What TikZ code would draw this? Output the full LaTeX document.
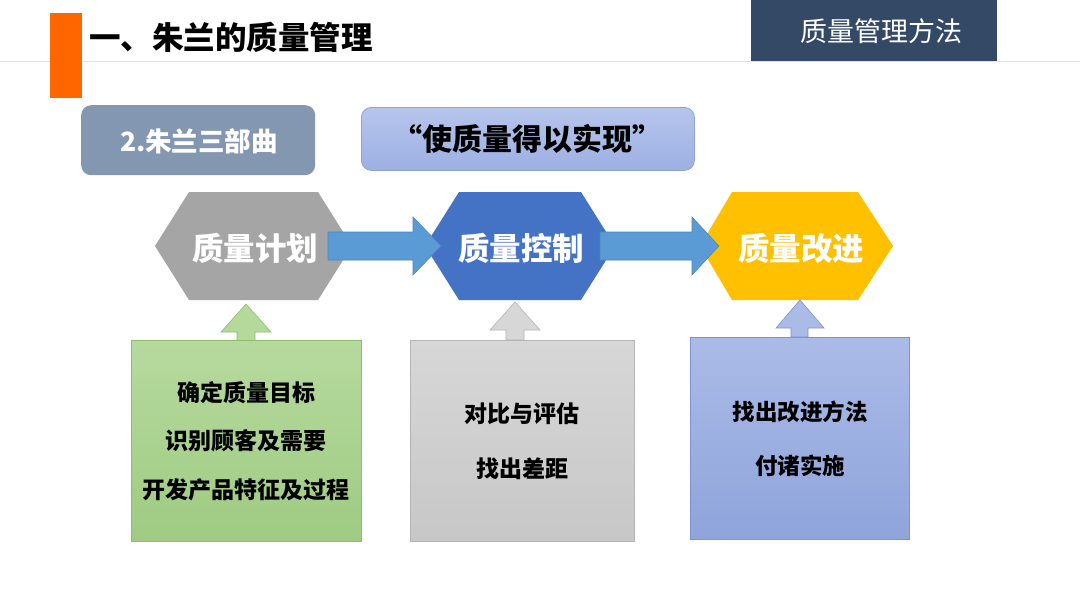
\documentclass[tikz,border=0pt]{standalone}
\usepackage{fontspec}
\setmainfont{Noto Sans CJK SC}
\definecolor{barorange}{HTML}{FF6600}
\definecolor{darkbox}{HTML}{344966}
\definecolor{linegray}{HTML}{E2E2E2}
\definecolor{tagfill}{HTML}{8497B0}
\definecolor{quotetop}{HTML}{B6C5EC}
\definecolor{quotebot}{HTML}{9CB0E2}
\definecolor{quoteborder}{HTML}{8FA3D8}
\definecolor{hexgray}{HTML}{A5A5A5}
\definecolor{hexblue}{HTML}{4472C4}
\definecolor{hexgold}{HTML}{FFC000}
\definecolor{arrblue}{HTML}{5B9BD5}
\definecolor{arrborder}{HTML}{4A86C0}
\definecolor{greentop}{HTML}{B6DA9E}
\definecolor{greenbot}{HTML}{9FCB82}
\definecolor{greenborder}{HTML}{8DBE6C}
\definecolor{graytop}{HTML}{D7D7D7}
\definecolor{graybot}{HTML}{C7C7C7}
\definecolor{grayborder}{HTML}{B5B5B5}
\definecolor{bluetop}{HTML}{ABBBE7}
\definecolor{bluebot}{HTML}{8EA4DB}
\definecolor{blueborder}{HTML}{7C93CE}
\tikzset{
  hextext/.style={text=white, font=\fontsize{31.5}{31.5}\selectfont\bfseries, inner sep=0},
  boxtext/.style={text=black, align=center, inner sep=0},
  flowarrow/.style={fill=arrblue, draw=arrborder, line width=0.6pt},
  infobox/.style={line width=0.8pt, minimum width=#1, anchor=north west, inner sep=0},
}
\begin{document}
\begin{tikzpicture}[x=1pt,y=-1pt]
\useasboundingbox (0,0) rectangle (1080,608);
\fill[white] (0,0) rectangle (1080,608);
% header line
\draw[linegray, line width=1pt] (0,61) -- (1080,61);
% orange bar
\node[fill=barorange, minimum width=32pt, minimum height=85pt, inner sep=0, anchor=north west] (bar) at (50,13) {};
% title
\node[anchor=west, inner sep=0, font=\fontsize{31.5}{31.5}\selectfont\bfseries] (title) at (89,37) {一、朱兰的质量管理};
% dark top-right box
\node[fill=darkbox, minimum width=246pt, minimum height=61pt, inner sep=0, anchor=north west] (method) at (751,0) {};
\node[text=white, font=\fontsize{27}{27}\selectfont, inner sep=0] (methodtxt) at (881,31) {质量管理方法};
% tag box
\node[fill=tagfill, rounded corners=10pt, minimum width=234pt, minimum height=70pt, inner sep=0, anchor=north west] (tag) at (81,105) {};
\node[text=white, font=\fontsize{26.5}{26.5}\selectfont\bfseries] (tagtxt) at (199,141) {2.朱兰三部曲};
% quote box
\node[top color=quotetop, bottom color=quotebot, draw=quoteborder, line width=0.8pt, rounded corners=10pt, minimum width=333pt, minimum height=63pt, inner sep=0, anchor=north west] (quote) at (361,107) {};
\node[text=black, font=\fontsize{30}{30}\selectfont\bfseries] (quotetxt) at (quote.center) {“使质量得以实现”};
% hexagons
\fill[hexgray] (155,246) -- (189,192) -- (318,192) -- (352,246) -- (318,300) -- (189,300) -- cycle;
\node[hextext] (plan) at (255,248) {质量计划};
\fill[hexblue] (425,246) -- (459,192) -- (581,192) -- (615,246) -- (581,300) -- (459,300) -- cycle;
\node[hextext] (control) at (521,248) {质量控制};
\fill[hexgold] (700,246) -- (732,192) -- (858,192) -- (893,246) -- (858,300) -- (732,300) -- cycle;
\node[hextext] (improve) at (801,248) {质量改进};
% flow arrows
\draw[flowarrow] (328,232) -- (413,232) -- (413,217) -- (441,246) -- (413,275) -- (413,260) -- (328,260) -- cycle;
\draw[flowarrow] (600,232) -- (692,232) -- (692,217) -- (719,246) -- (692,275) -- (692,260) -- (600,260) -- cycle;
% up arrows
\draw[fill=greentop!90!greenbot, draw=greenborder, line width=0.6pt] (246,304) -- (271,332) -- (255,332) -- (255,341) -- (237,341) -- (237,332) -- (221,332) -- cycle;
\draw[fill=graytop, draw=grayborder, line width=0.6pt] (515,302) -- (540,330) -- (524,330) -- (524,340) -- (506,340) -- (506,330) -- (490,330) -- cycle;
\draw[fill=bluetop, draw=blueborder, line width=0.6pt] (800,300) -- (824,328) -- (808,328) -- (808,337) -- (791,337) -- (791,328) -- (776,328) -- cycle;
% info boxes
\node[infobox=230pt, minimum height=201pt, top color=greentop, bottom color=greenbot, draw=greenborder] (planbox) at (131,340) {};
\node[boxtext, font=\fontsize{23}{48.5}\selectfont\bfseries] (plantxt) at (246,441) {确定质量目标\\识别顾客及需要\\开发产品特征及过程};
\node[infobox=224pt, minimum height=201pt, top color=graytop, bottom color=graybot, draw=grayborder] (controlbox) at (410,340) {};
\node[boxtext, font=\fontsize{23}{55}\selectfont\bfseries] (controltxt) at (522,441) {对比与评估\\找出差距};
\node[infobox=219pt, minimum height=202pt, top color=bluetop, bottom color=bluebot, draw=blueborder] (improvebox) at (690,337) {};
\node[boxtext, font=\fontsize{22.5}{54}\selectfont\bfseries] (improvetxt) at (800,439) {找出改进方法\\付诸实施};
\end{tikzpicture}
\end{document}
